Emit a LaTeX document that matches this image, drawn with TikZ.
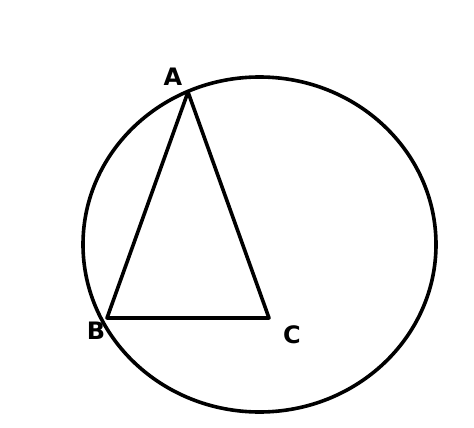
\documentclass[tikz,border=0pt]{standalone}
\usepackage{fontspec}
\setmainfont{DejaVu Sans}
\begin{document}
\begin{tikzpicture}[x=1pt,y=-1pt,
  geo/.style={line width=3.6pt, line join=round, line cap=round},
  lab/.style={font=\bfseries\fontsize{24}{24}\selectfont, inner sep=0pt}]
\useasboundingbox[fill=white] (0,0) rectangle (474,428);
\coordinate (A) at (188,92);
\coordinate (B) at (107,318);
\coordinate (C) at (269,318);
\coordinate (O) at (259.5,244.5);
\draw[geo] (O) ellipse [x radius=176.5pt, y radius=167.5pt];
\draw[geo] (A) -- (B) -- (C) -- cycle;
\node[lab] (la) at (173,77) {A};
\node[lab] (lb) at (96,331) {B};
\node[lab] (lc) at (292,335) {C};
\end{tikzpicture}
\end{document}
